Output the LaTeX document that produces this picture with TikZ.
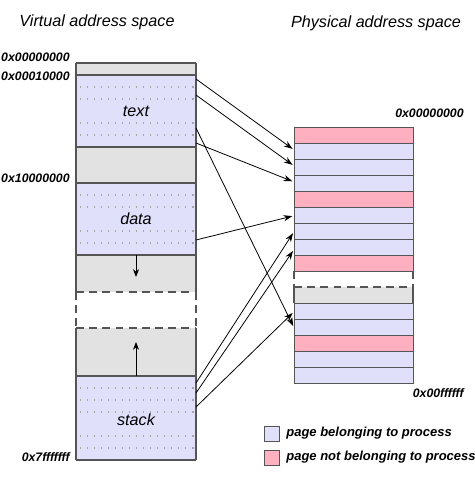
\documentclass[tikz,border=0pt]{standalone}
\usepackage{fontspec}
\setmainfont{Liberation Sans}
\usetikzlibrary{arrows.meta}
\definecolor{pagein}{RGB}{224,224,250}
\definecolor{pageout}{RGB}{255,176,192}
\definecolor{unused}{RGB}{226,226,226}
\definecolor{edge}{RGB}{85,85,85}
\tikzset{
    addr/.style={font=\fontsize{7}{8}\selectfont\bfseries\itshape, anchor=east, inner sep=0pt},
    title/.style={font=\fontsize{9.2}{11}\selectfont\itshape, inner sep=0pt},
    seg/.style={font=\fontsize{9.2}{11}\selectfont\itshape, inner sep=1pt},
    legend/.style={font=\fontsize{7.4}{9}\selectfont\bfseries\itshape, anchor=west, inner sep=0pt},
    frame/.style={draw=edge, line width=0.8pt},
    gapline/.style={draw=edge, line width=0.8pt, dash pattern=on 4.5pt off 3pt},
    page/.style={draw=edge, line width=0.8pt, minimum width=2.38cm, minimum height=0.32cm,
        inner sep=0pt, anchor=north west},
    map/.style={-{Stealth[length=5pt,width=3.5pt]}, line width=0.45pt, shorten >=1pt},
    growth/.style={-{Stealth[length=4.5pt,width=3.5pt]}, line width=0.5pt},
    grid/.style={gray!70, line width=0.6pt, dash pattern=on 0.6pt off 3.4pt}
}
\begin{document}
\begin{tikzpicture}[x=0.02cm,y=-0.02cm]
    \useasboundingbox (0,0) rectangle (474,483);
    % titles
    \node[title] (vtitle) at (97,22) {Virtual address space};
    \node[title] (ptitle) at (376,23) {Physical address space};

    % virtual address space
    \fill[unused] (76,63) rectangle (196,75);
    \fill[pagein] (76,75) rectangle (196,147);
    \fill[unused] (76,147) rectangle (196,183);
    \fill[pagein] (76,183) rectangle (196,255);
    \fill[unused] (76,255) rectangle (196,292);
    \fill[unused] (76,328) rectangle (196,376);
    \fill[pagein] (76,376) rectangle (196,460);
    \foreach \y in {87,99,123,135,195,207,231,243,388,400,412,436,448}
        \draw[grid] (80,\y) -- (194,\y);
    \foreach \y in {63,75,147,183,255,376,460}
        \draw[frame] (76,\y) -- (196,\y);
    \draw[frame] (76,292) -- (76,63) (196,63) -- (196,292);
    \draw[frame] (76,328) -- (76,460) (196,328) -- (196,460);
    \draw[gapline] (76,292) -- (196,292) (76,328) -- (196,328);
    \draw[gapline] (76,292) -- (76,328) (196,292) -- (196,328);
    \node[seg] (text) at (136,111) {text};
    \node[seg] (data) at (136,219) {data};
    \node[seg] (stack) at (136,420) {stack};
    \coordinate (heaptop) at (136,255);
    \coordinate (heapend) at (136,277);
    \coordinate (stacktop) at (136,376);
    \coordinate (stackend) at (136,342);
    \draw[growth] (heaptop) -- (heapend);
    \draw[growth] (stacktop) -- (stackend);

    \node[addr] (v0) at (70,57) {0x00000000};
    \node[addr] (v1) at (70,76) {0x00010000};
    \node[addr] (v2) at (70,178) {0x10000000};
    \node[addr] (v3) at (70,457) {0x7fffffff};

    % physical address space
    \foreach \c [count=\i] in {pageout,pagein,pagein,pagein,pageout,pagein,pagein,pagein,pageout}
        \node[page, fill=\c] (p\i) at (294,{127+16*(\i-1)}) {};
    \fill[unused] (294,287) rectangle (413,303);
    \foreach \c [count=\i from 2] in {pagein,pagein,pageout,pagein,pagein}
        \node[page, fill=\c] (q\i) at (294,{303+16*(\i-2)}) {};
    \draw[frame] (294,303) -- (294,287) (413,287) -- (413,303);
    \draw[gapline] (294,271) -- (294,287) (413,271) -- (413,287);
    \draw[gapline] (294,287) -- (413,287);

    \node[addr] (p0) at (464,113) {0x00000000};
    \node[addr] (pend) at (464,393) {0x00ffffff};

    % page mapping
    \coordinate (t1) at (196,79);
    \coordinate (t2) at (196,95);
    \coordinate (t3) at (196,128);
    \coordinate (t4) at (196,143);
    \coordinate (d1) at (196,240);
    \coordinate (s1) at (196,383);
    \coordinate (s2) at (196,393);
    \coordinate (s3) at (196,407);
    \draw[map] (t1) -- ([yshift=1pt]p2.west);
    \draw[map] (t2) -- ([yshift=1pt]p3.west);
    \draw[map] (t3) -- (q3.west);
    \draw[map] (t4) -- ([yshift=1pt]p4.west);
    \draw[map] (d1) -- (p6.west);
    \draw[map] (s1) -- (p7.west);
    \draw[map] (s2) -- ([yshift=-1pt]p8.west);
    \draw[map] (s3) -- (q2.west);

    % legend
    \node[page, fill=pagein, minimum width=0.3cm, minimum height=0.3cm] (keyin) at (264,426) {};
    \node[page, fill=pageout, minimum width=0.3cm, minimum height=0.3cm] (keyout) at (264,450) {};
    \node[legend] (keyintext) at (286,433) {page belonging to process};
    \node[legend] (keyouttext) at (286,457) {page not belonging to process};
\end{tikzpicture}
\end{document}
